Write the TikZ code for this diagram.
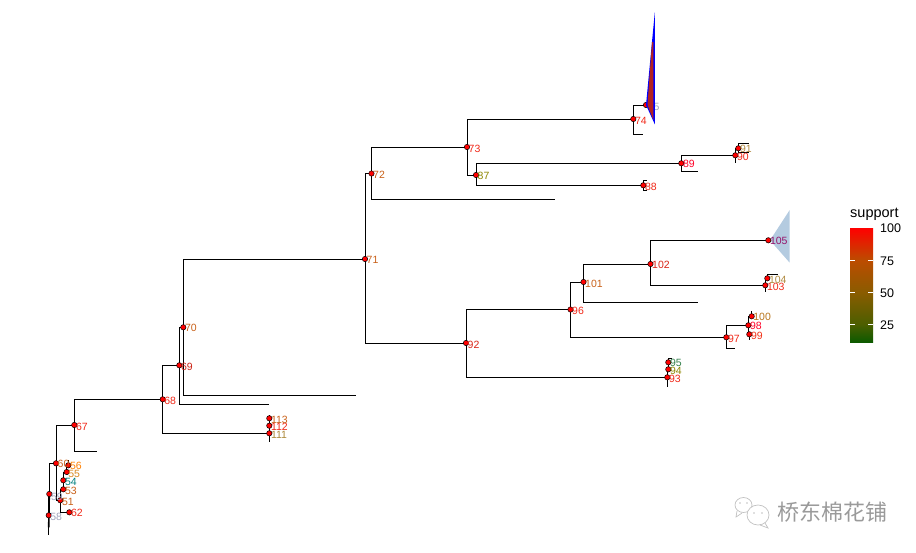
\documentclass[tikz,border=0pt]{standalone}
\usepackage{fontspec}
\setmainfont{Liberation Sans}
\newfontfamily\cjkfont{Noto Sans CJK SC}
\usetikzlibrary{calc}
\definecolor{barhigh}{HTML}{FF0000}
\definecolor{barseven}{HTML}{BC4C00}
\definecolor{barfive}{HTML}{8A5C00}
\definecolor{bartwo}{HTML}{4C5E00}
\definecolor{barlow}{HTML}{0A5A00}
\definecolor{cladered}{HTML}{B22222}
\definecolor{cladeblue}{HTML}{B4CBE0}
\definecolor{markgray}{HTML}{9A9A9A}
\definecolor{tan}{HTML}{B08A40}
\definecolor{rust}{HTML}{C86018}
\definecolor{amber}{HTML}{D88A20}
\definecolor{hazy}{HTML}{A0A4BC}
\definecolor{hot}{HTML}{F02818}
\pgfdeclareverticalshading{supportbar}{100bp}{color(0bp)=(barlow); color(25bp)=(barlow); color(33bp)=(bartwo); color(47bp)=(barfive); color(61bp)=(barseven); color(75bp)=(barhigh); color(100bp)=(barhigh)}
\tikzset{
    branch/.style={line width=0.9pt, black},
    supportlabel/.style={font=\fontsize{10.5}{11}\selectfont, inner sep=0pt, anchor=west},
    legendlabel/.style={font=\fontsize{12.5}{13}\selectfont, inner sep=0pt, anchor=west},
}
\begin{document}
\begin{tikzpicture}[x=1pt, y=-1pt]
        \useasboundingbox (0,0) rectangle (916,552);

        % Internal points of the tree
        \foreach \id/\x/\y in {51/60.3/500.3, 53/63.3/489.3, 54/63.3/480.3, 55/66.7/472, 56/68.3/465.3,
            58/48.7/515.3, 59/49.3/494, 60/56/463.3, 62/69.3/512.3, 67/74.3/425, 68/162.7/399.3,
            69/179.3/365.3, 70/183.3/327.3, 71/365/259, 72/371.5/173.5, 73/467/147, 74/633.3/119,
            75/646/105, 87/476/175, 88/643.3/185.3, 89/681.3/163.3, 90/735.3/155.3, 91/738.3/148.3,
            92/466/343, 93/667.3/377.3, 94/668.3/369.3, 95/668.3/362.3, 96/570.5/309.5, 97/726.3/337.3,
            98/748.3/325.3, 99/749.3/334.3, 100/751.7/316.3, 101/583.5/282, 102/650.5/264,
            103/765.3/285.3, 104/767.3/278.3, 105/768.3/240.3, 111/269.3/433.3, 112/269.3/425.7,
            113/269.3/418.3}
            \coordinate (n\id) at (\x,\y);

        % Free ends of the branches
        \foreach \id/\x/\y in {58/48.7/535, 56/69/460.7, 67/96.7/451.6, 69/269/404.5, 70/356/395,
            72/555/199, 74/643/134.5, 88/647/180.3, 88b/647/190.7, 89/698/171.3, 90/735.3/162.7,
            91/749/143.3, 91b/749/152, 93/667.3/387, 95/671.7/358.3, 97/734.7/348.3, 99/749.3/340,
            100/751.7/311, 101/698/302, 103/765.3/292.3, 104/777.7/274.3, 111/269.3/441.7, 113/269.3/415}
            \coordinate (t\id) at (\x,\y);

        % Draw the branches
        \foreach \p/\c in {n58/n59, n58/t58, n59/n60, n60/n67, n60/n51, n51/n53, n51/n62, n53/n54,
            n54/n55, n55/n56, n56/t56, n67/n68, n67/t67, n68/n69, n68/n111, n69/n70, n69/t69,
            n70/n71, n70/t70, n71/n72, n71/n92, n72/n73, n72/t72, n73/n74, n73/n87, n74/n75, n74/t74,
            n87/n89, n87/n88, n88/t88, n88/t88b, n89/n90, n89/t89, n90/n91, n90/t90, n91/t91, n91/t91b,
            n92/n96, n92/n93, n93/n94, n94/n95, n95/t95, n93/t93, n96/n101, n96/n97, n97/n98, n97/t97,
            n98/n100, n98/n99, n99/t99, n100/t100, n101/n102, n101/t101, n102/n105, n102/n103,
            n103/n104, n103/t103, n104/t104, n111/n112, n112/n113, n113/t113, n111/t111}
            \draw[branch] (\p) |- (\c);
        \draw[line width=1.6pt] (n59) -- ($(n58)+(0,12)$);

        % Collapsed clade behind 105
        \fill[cladeblue] (770,240.3) -- (789.7,210) -- (789.7,262.7) -- cycle;

        % Points and their support values
        \foreach \id/\dy/\col in {51/2/rust, 53/1.5/rust, 54/1.5/teal, 55/1.5/amber, 56/1/orange,
            58/1.5/hazy, 59/3/hazy, 60/1/rust, 62/1/hot, 67/2/hot, 68/1.5/hot, 69/2/hot!85!black,
            70/1/rust, 71/1/rust, 72/1/rust, 73/1.5/hot, 74/2/hot, 75/1.5/hazy, 87/1/olive,
            88/2/hot, 89/1/red!85!magenta, 90/1.5/hot, 91/1/tan, 92/2/hot!90!black, 93/2/hot,
            94/2/olive, 95/1/teal!60!olive, 96/1/hot, 97/1.5/hot, 98/1/red!85!magenta, 99/1.5/hot!90!orange,
            100/1/amber!85!black, 101/2/rust, 102/1/hot!90!black, 103/2/hot, 104/2/tan, 105/1/red!60!blue!85!gray,
            111/2/tan!90!olive, 112/1.5/hot, 113/1.5/rust}
        {
            \fill[red, draw=black, line width=0.5pt] (n\id) circle (2.7pt);
            \node[supportlabel, text=\col] (l\id) at ($(n\id)+(1.5,\dy)$) {\id};
        }

        % Collapsed clade behind 75
        \fill[blue] (n75) -- (654.8,12.3) -- (654.8,124.3) -- cycle;
        \fill[cladered] (647.5,105) -- (652,42) -- (653.3,42) -- (653.3,120) -- cycle;

        % Colour bar of the legend
        \shade[shading=supportbar] (850,228) rectangle (873,342.7);
        \foreach \y in {260.3, 292, 324.3}
            \draw[white, line width=0.6pt] (850,\y) -- (854.6,\y) (868.4,\y) -- (873,\y);
        \node[legendlabel, font=\fontsize{14.5}{15}\selectfont] (legendtitle) at (850,214) {support};
        \node[legendlabel] (tick100) at (880,228.5) {100};
        \node[legendlabel] (tick75) at (880,261.5) {75};
        \node[legendlabel] (tick50) at (880,293.5) {50};
        \node[legendlabel] (tick25) at (880,325.5) {25};

        % Watermark
        \draw[markgray!60, line width=0.7pt, fill=white] (737,511) -- (736,517) -- (742,513);
        \draw[markgray!60, line width=0.7pt, fill=white] (743.5,505) ellipse (8.5pt and 7.5pt);
        \draw[markgray!60, line width=0.7pt, fill=white] (765,523) -- (768,528) -- (760,525);
        \draw[markgray!60, line width=0.7pt, fill=white] (758,515) ellipse (11pt and 10pt);
        \fill[markgray!60] (740,503) circle (0.9pt) (747,503) circle (0.9pt) (754,513) circle (0.9pt) (762,513) circle (0.9pt);
        \node[inner sep=0pt, anchor=west, text=markgray, font=\cjkfont\fontsize{22}{22}\selectfont] (watermark) at (777,512) {桥东棉花铺};
      \end{tikzpicture}
\end{document}
